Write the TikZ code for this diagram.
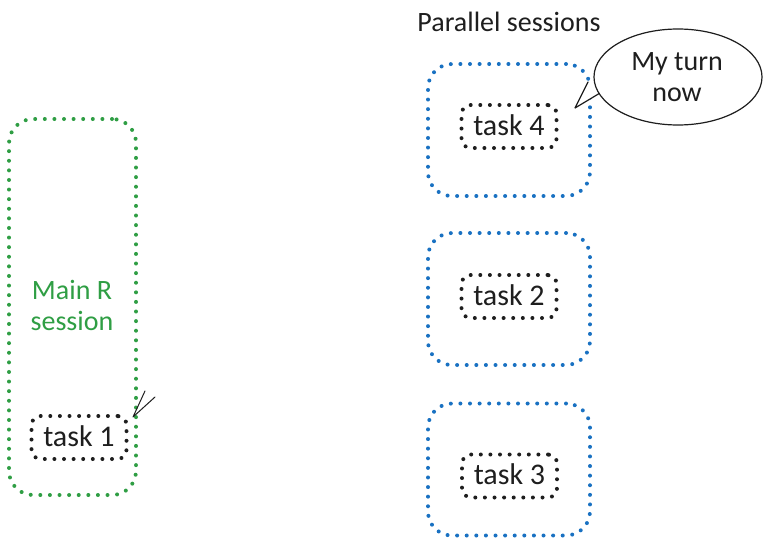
\documentclass[tikz,border=0pt]{standalone}
\usepackage{fontspec}
\setmainfont{Carlito}
\definecolor{sessgreen}{HTML}{2F9E44}
\definecolor{sessblue}{HTML}{1971C2}
\definecolor{inkblack}{HTML}{1E1E1E}
\tikzset{
  dotbox/.style={draw, rectangle, rounded corners=24pt, line width=4pt, line cap=round, dash pattern=on 0pt off 9.6pt, inner sep=0pt, anchor=center},
  sessbox/.style={dotbox, draw=sessblue, minimum width=162pt, minimum height=132pt},
  mainbox/.style={dotbox, draw=sessgreen, minimum width=127pt, minimum height=376pt},
  taskbox/.style={dotbox, draw=inkblack, rounded corners=9pt, minimum width=95pt, minimum height=43pt, text depth=3pt, font=\fontsize{30}{32}\selectfont, text=inkblack},
  label/.style={inner sep=0pt, align=center, text=inkblack, font=\fontsize{28}{31}\selectfont}
}
\begin{document}
\begin{tikzpicture}[x=1pt, y=-1pt, line join=round, line cap=round]
\useasboundingbox (0,0) rectangle (768,543);
\node[mainbox] (main) at (72.5,307) {};
\node[sessbox] (sessA) at (509,130) {};
\node[sessbox] (sessB) at (509,299) {};
\node[sessbox] (sessC) at (509,469.5) {};
\node[taskbox] (taskA) at (79,437.5) {task 1};
\node[taskbox] (taskD) at (509,126.5) {task 4};
\node[taskbox] (taskB) at (509,296.5) {task 2};
\node[taskbox] (taskC) at (509.5,476) {task 3};
\node[label, text=sessgreen] (mainlabel) at (72,305.5) {Main R\\session};
\node[label] (title) at (509,22) {Parallel sessions};
% speech bubble with its tail
\fill[white] (588,82) -- (575,108) -- (600,93) -- (610,80) -- cycle;
\draw[draw=inkblack, line width=1.2pt] (588,82) -- (575,108) -- (600,93);
\draw[fill=white, draw=inkblack, line width=1.2pt] (678,77) ellipse [x radius=84, y radius=48];
\node[label] (turn) at (677,77) {My turn\\now};
% tail without a bubble
\coordinate (tipA) at (133,417); \coordinate (tailL) at (145,391); \coordinate (tailR) at (155,397);
\draw[draw=inkblack, line width=1pt] (tailL) -- (tipA) -- (tailR);
\end{tikzpicture}
\end{document}
